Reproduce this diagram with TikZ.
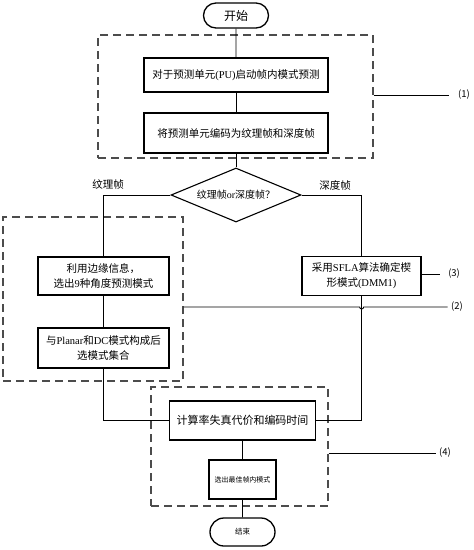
\documentclass[tikz,border=0pt]{standalone}
\usepackage{fontspec}
\setmainfont{Noto Sans CJK SC}
\newfontfamily\latinfont{Liberation Serif}
\newcommand{\lat}[1]{{\latinfont #1}}
\usetikzlibrary{backgrounds, fit}
\usetikzlibrary{positioning}
\usetikzlibrary{shapes.misc}
\usetikzlibrary{shapes.geometric}

\begin{document}
\begin{tikzpicture}[
            x = 1pt, y = -1pt, % one unit per pixel, top down
            line join = miter,
            semithick % line style
        ]

        \tikzstyle{block}=[
            draw,
            line width = 1.6pt,
            rectangle,
            align = center,
            inner sep = 2pt,
            font = \fontsize{10.5}{15}\selectfont
        ]
        \tikzstyle{terminal}=[
            draw,
            line width = 1.3pt,
            rounded rectangle,
            minimum width = 67pt,
            inner sep = 1pt
        ]
        \tikzstyle{decision}=[
            draw,
            line width = 1.1pt,
            diamond,
            aspect = 2.5,
            minimum width = 130pt,
            minimum height = 54pt,
            inner sep = 0pt,
            font = \fontsize{10}{12}\selectfont
        ]
        \tikzstyle{dashbox}=[
            draw = black!70,
            dash pattern = on 8pt off 5pt,
            line width = 1.3pt,
            inner sep = 0pt
        ]
        \tikzstyle{line}=[line width = 0.9pt]
        \tikzstyle{tag}=[inner sep = 0pt, font = \fontsize{9.5}{10}\selectfont]
        \tikzstyle{branch}=[font = \fontsize{10.5}{12}\selectfont]

        \useasboundingbox (0,0) rectangle (474,550);

        % start and common steps
        \node[terminal, minimum height = 25pt, font = \fontsize{12}{14}\selectfont] (start) at (236,15.5) {开始};
        \node[block, minimum width = 184pt, minimum height = 34pt] (predict) at (236,75) {对于预测单元\lat{(PU)}启动帧内模式预测};
        \node[block, minimum width = 184pt, minimum height = 40pt] (encode) at (236,133) {将预测单元编码为纹理帧和深度帧};

        \path[line] (start) edge (predict);
        \path[line] (predict) edge (encode);

        % decision
        \node[decision] (choice) at (236,195) {纹理帧\lat{or}深度帧？};
        \node[branch] (texlab) at (108,185) {纹理帧};
        \node[branch] (deplab) at (335,185) {深度帧};

        \path[line] (encode) edge (choice);

        % texture frame
        \node[block, minimum width = 131pt, minimum height = 38pt] (angular) at (103.5,276) {利用边缘信息，\\选出\lat{9}种角度预测模式};
        \node[block, minimum width = 131pt, minimum height = 40pt] (candset) at (103.5,348) {与\lat{Planar}和\lat{DC}模式构成后\\选模式集合};

        \draw[line] (choice.west) -| (angular.north);
        \path[line] (angular) edge (candset);

        % depth frame
        \node[block, minimum width = 119pt, minimum height = 39pt] (wedge) at (361.5,276) {采用\lat{SFLA}算法确定楔\\形模式\lat{(DMM1)}};

        \draw[line] (choice.east) -| (wedge.north);

        % cost and final choice
        \node[block, minimum width = 146pt, minimum height = 39pt, font = \fontsize{11}{13}\selectfont] (rdcost) at (242.5,420.5) {计算率失真代价和编码时间};
        \node[block, minimum width = 67pt, minimum height = 39pt, font = \fontsize{7}{9}\selectfont] (best) at (242.5,479.5) {选出最佳帧内模式};
        \node[terminal, minimum height = 28pt, font = \fontsize{7.5}{9}\selectfont] (stop) at (242.5,532) {结束};

        \draw[line] (candset.south) |- (rdcost.west);
        \draw[line] (wedge.south) |- (rdcost.east);
        \path[line] (rdcost) edge (best);
        \path[line] (best) edge (stop);

        % groups
        \begin{scope}[on background layer]
            \coordinate (g1a) at (98,35);   \coordinate (g1b) at (373,158);
            \coordinate (g2a) at (3,217);   \coordinate (g2b) at (183,381);
            \coordinate (g4a) at (151,387); \coordinate (g4b) at (328,506);
            \node[dashbox, fit = (g1a) (g1b)] (group1) {};
            \node[dashbox, fit = (g2a) (g2b)] (group2) {};
            \node[dashbox, fit = (g4a) (g4b)] (group4) {};
        \end{scope}

        % step labels
        \draw[line] ([yshift = 1.5pt] group1.east) -- ++(75,0) coordinate (t1) node[tag, anchor = west, xshift = 9pt] (tag1) {(1)};
        \draw[line] ([yshift = -8pt] group2.east) -- ++(176,0) arc[start angle = 180, end angle = 0, radius = 2] -- ++(84,0) coordinate (t2) node[tag, anchor = west, xshift = 3pt] (tag2) {(2)};
        \draw[line] ([yshift = 2pt] wedge.east) -- ++(18,0) coordinate (t3) node[tag, anchor = west, xshift = 8pt] (tag3) {(3)};
        \draw[line] ([yshift = -6.5pt] group4.east) -- ++(107,0) coordinate (t4) node[tag, anchor = west, xshift = 3pt] (tag4) {(4)};

\end{tikzpicture}
\end{document}
